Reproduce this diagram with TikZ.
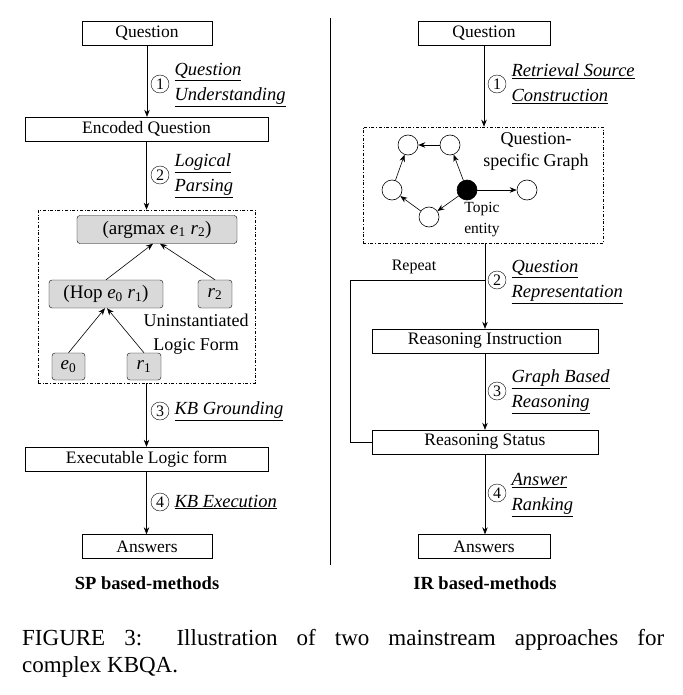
\documentclass[tikz,border=0pt]{standalone}
\usepackage{fontspec}
\setmainfont{Liberation Serif}
\usetikzlibrary{arrows.meta}
\newcommand{\vv}[2]{\textit{#1}\textsubscript{#2}}
\begin{document}
\begin{tikzpicture}[x=1pt,y=-1pt,
 box/.style={draw,minimum height=24pt,inner sep=0pt,font=\fontsize{17.5}{20}\selectfont},
 lf/.style={draw,fill=black!15,rounded corners=3pt,minimum height=28pt,inner sep=0pt,font=\fontsize{19}{21}\selectfont},
 arr/.style={-{Stealth[length=7pt,width=5.5pt]},line width=0.6pt},
 dd/.style={draw,dash dot,line width=0.6pt},
 num/.style={draw,circle,inner sep=0.3pt,minimum size=18pt,font=\fontsize{16}{16}\selectfont},
 lab/.style={anchor=west,font=\fontsize{18.5}{25}\selectfont\itshape,align=left},
 gn/.style={draw,circle,minimum size=20pt,inner sep=0pt,line width=0.6pt},
 txt/.style={font=\fontsize{17.5}{20}\selectfont}]
\useasboundingbox (0,0) rectangle (682,695);
% ---------- left
\node[box,minimum width=130pt] (q1) at (147,33.5) {Question};
\node[box,minimum width=243pt] (eq) at (146.5,129) {Encoded Question};
\node[dd,minimum width=217pt,minimum height=173pt,inner sep=0pt] (sb) at (146.5,296.5) {};
\node[lf,minimum width=160pt] (am) at (157,229.5) {(argmax \vv{e}{1} \vv{r}{2})};
\node[lf,minimum width=114pt] (hop) at (106,294) {(Hop \vv{e}{0} \vv{r}{1})};
\node[lf,minimum width=34pt] (r2) at (215,294) {\vv{r}{2}};
\node[lf,minimum width=33pt,minimum height=27pt] (e0) at (68.5,366.5) {\vv{e}{0}};
\node[lf,minimum width=34pt,minimum height=27pt] (r1) at (144,366.5) {\vv{r}{1}};
\node[txt,align=center,font=\fontsize{18}{24}\selectfont] (ul) at (196,334) {Uninstantiated\\Logic Form};
\node[box,minimum width=243pt] (ex) at (146.5,459) {Executable Logic form};
\node[box,minimum width=130pt] (a1) at (147,546.5) {Answers};
\draw[arr] (q1) -- (q1 |- eq.north);
\draw[arr] (eq) -- (eq |- sb.north);
\draw[arr] (sb.south -| ex) -- (ex);
\draw[arr] (ex) -- (ex |- a1.north);
\draw[arr] (hop.north) -- ([xshift=-4pt]am.south);
\draw[arr] (r2.north) -- ([xshift=3pt]am.south);
\draw[arr] (e0.north) -- ([xshift=-1pt]hop.south);
\draw[arr] (r1.north) -- ([xshift=1pt]hop.south);
\node[num] (n1) at (160,84) {1};
\node[lab] (l1) at (171,85) {\underline{Question}\\\underline{Understanding}};
\node[num] (n2) at (160,175) {2};
\node[lab] (l2) at (171,176) {\underline{Logical}\\\underline{Parsing}};
\node[num] (n3) at (160,411) {3};
\node[lab] (l3) at (171,411) {\underline{KB Grounding}};
\node[num] (n4) at (160,502) {4};
\node[lab] (l4) at (171,502) {\underline{KB Execution}};
\node[font=\fontsize{18.5}{20}\selectfont\bfseries] (t1) at (147,583) {SP based-methods};
% divider
\coordinate (d1) at (330,18); \coordinate (d2) at (330,565);
\draw[line width=0.6pt] (d1) -- (d2);
% ---------- right
\node[box,minimum width=132pt] (q2) at (484,33.5) {Question};
\node[dd,minimum width=240pt,minimum height=116pt,inner sep=0pt] (gb) at (483,185) {};
\node[gn] (g1) at (408,145) {};
\node[gn] (g2) at (450,145) {};
\node[gn] (g3) at (392,190) {};
\node[gn] (g4) at (429,217) {};
\node[gn,fill=black] (gt) at (467,190) {};
\node[gn] (g5) at (527,190) {};
\draw[arr] (g2) -- (g1);
\draw[arr] (g3) -- (g1);
\draw[arr] (g4) -- (g3);
\draw[arr] (gt) -- (g4);
\draw[arr] (gt) -- (g2);
\draw[arr] (gt) -- (g5);
\node[txt,align=center,font=\fontsize{18}{22}\selectfont] (qsg) at (536,151) {Question-\\specific Graph};
\node[txt,align=center,font=\fontsize{15.5}{21}\selectfont] (te) at (482,220) {Topic\\entity};
\node[box,minimum width=226pt] (ri) at (485,341) {Reasoning Instruction};
\node[box,minimum width=226pt] (rs) at (485,442) {Reasoning Status};
\node[box,minimum width=132pt] (a2) at (484,546.5) {Answers};
\draw[arr] (q2) -- (q2 |- gb.north);
\draw[arr] (gb.south -| ri) -- (ri);
\draw[arr] (ri) -- (rs);
\draw[arr] (rs) -- (rs |- a2.north);
\coordinate (rp) at (485,280);
\draw[line width=0.6pt] (rs.west) -- ++(-22,0) |- (rp);
\node[txt,font=\fontsize{16}{18}\selectfont] (rep) at (414,267) {Repeat};
\node[num] (m1) at (497,84) {1};
\node[lab] (k1) at (508,84) {\underline{Retrieval Source}\\\underline{Construction}};
\node[num] (m2) at (497,280) {2};
\node[lab] (k2) at (508,282) {\underline{Question}\\\underline{Representation}};
\node[num] (m3) at (497,391) {3};
\node[lab] (k3) at (508,392) {\underline{Graph Based}\\\underline{Reasoning}};
\node[num] (m4) at (497,493) {4};
\node[lab] (k4) at (508,495) {\underline{Answer}\\\underline{Ranking}};
\node[font=\fontsize{18.5}{20}\selectfont\bfseries] (t2) at (485,583) {IR based-methods};
% caption
\node[anchor=north west,inner sep=0pt,text width=642pt,align=justify,font=\fontsize{23}{27}\selectfont] (cap) at (22,629) {FIGURE 3: Illustration of two mainstream approaches for\linebreak complex KBQA.};
\end{tikzpicture}
\end{document}
